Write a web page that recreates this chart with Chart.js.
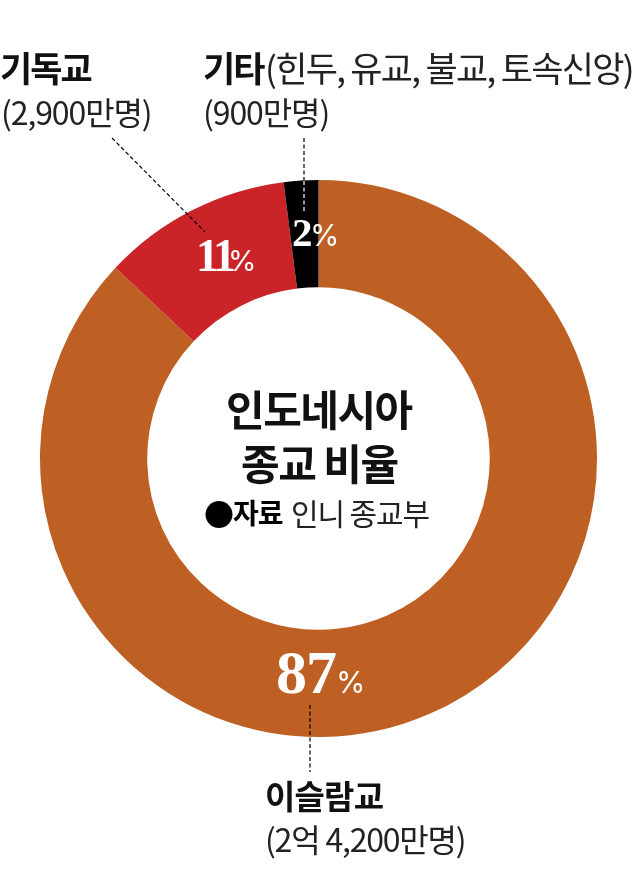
<!DOCTYPE html>
<html>
<head>
<meta charset="utf-8">
<style>
html, body { margin: 0; padding: 0; background: #fff; }
#wrap { position: relative; width: 640px; height: 875px; }
</style>
<script src="https://cdn.jsdelivr.net/npm/chart.js@4"></script>
</head>
<body>
<div id="wrap"><canvas id="chart"></canvas></div>
<script>
const categories = ["이슬람교", "기독교", "기타"]
const shares = [87, 11, 2]
const sliceColors = ["#BE5F24", "#CB2428", "#000000"]

const KR = '"Noto Sans CJK KR"'
const SERIF = '"Liberation Serif"'

// [text, x, baseline y, font, colour, letter spacing]
const notes = [
    ["기독교", 0, 82, "700 35px " + KR, "#111", "-2px"],
    ["(2,900만명)", 1, 125, "400 32px " + KR, "#222", "-1.1px"],
    ["기타", 203, 82, "700 35px " + KR, "#111", "-2px"],
    ["(힌두, 유교, 불교, 토속신앙)", 265, 82, "400 35px " + KR, "#222", "-1.7px"],
    ["(900만명)", 203, 125, "400 32px " + KR, "#222", "-1.1px"],
    ["이슬람교", 265, 809, "700 33px " + KR, "#111", "-0.8px"],
    ["(2억 4,200만명)", 265, 852, "400 32px " + KR, "#222", "-1.2px"],
    ["인도네시아", 226, 426, "700 42px " + KR, "#111", "-1.5px"],
    ["종교 비율", 241, 480, "700 42px " + KR, "#111", "-1.5px"],
    ["●", 204, 526, "400 30px " + KR, "#000", "0px"],
    ["자료", 233, 524, "700 28px " + KR, "#000", "-1px"],
    ["인니 종교부", 291, 525, "400 30px " + KR, "#222", "-1.1px"],
    ["87", 276, 693, "700 62px " + SERIF, "#fff", "-1px"],
    ["%", 336, 693, "400 30px Inter", "#fff", "-1.5px"],
    ["11", 196, 271, "700 46px " + SERIF, "#fff", "-3.5px"],
    ["%", 228, 271, "400 29px Inter", "#fff", "-1.5px"],
    ["2", 292, 246, "700 41px " + SERIF, "#fff", "-1px"],
    ["%", 310, 246, "400 30px Inter", "#fff", "-1.5px"]
]

// leader lines [x1, y1, x2, y2, colour]
const leaders = [
    [112, 138, 205, 232, "#000"],
    [304, 138, 304, 181, "#000"],
    [304, 181, 304, 211, "#fff"],
    [310, 705, 310, 772, "#000"]
]

const notesPlugin = {
    id: "notes",
    afterDraw(chart) {
        const ctx = chart.ctx
        ctx.save()
        ctx.lineWidth = 1.2
        ctx.setLineDash([4, 2.5])
        leaders.forEach(l => {
            ctx.strokeStyle = l[4]
            ctx.beginPath()
            ctx.moveTo(l[0], l[1])
            ctx.lineTo(l[2], l[3])
            ctx.stroke()
        })
        ctx.setLineDash([])
        ctx.textBaseline = "alphabetic"
        notes.forEach(n => {
            ctx.font = n[3]
            ctx.fillStyle = n[4]
            ctx.letterSpacing = n[5]
            ctx.fillText(n[0], n[1], n[2])
        })
        ctx.restore()
    }
}

const chart = new Chart(document.getElementById("chart"), {
    type: "doughnut",
    data: {
        labels: categories,
        datasets: [{
            data: shares,
            backgroundColor: sliceColors,
            borderWidth: 0
        }]
    },
    options: {
        responsive: true,
        maintainAspectRatio: false,
        animation: false,
        cutout: "61.5%",
        layout: { padding: { left: 40, right: 43, top: 180, bottom: 138 } },
        plugins: { legend: { display: false }, tooltip: { enabled: false } }
    },
    plugins: [notesPlugin]
})
</script>
</body>
</html>
